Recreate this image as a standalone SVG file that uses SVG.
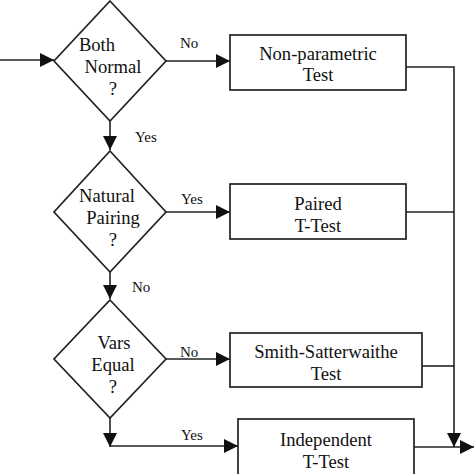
<svg xmlns="http://www.w3.org/2000/svg" width="474" height="474" viewBox="0 0 474 474">
<style>
.shape{fill:#fff;stroke:#222;stroke-width:1.7}
.line{fill:none;stroke:#222;stroke-width:1.6}
.t{font-family:"Liberation Serif","Times New Roman",serif;font-size:18.6px;fill:#111;text-anchor:middle}
.l{font-family:"Liberation Serif","Times New Roman",serif;font-size:15px;fill:#111}
</style>
<defs>
<marker id="arr" viewBox="0 0 14 14" refX="14" refY="7" markerWidth="14" markerHeight="14" markerUnits="userSpaceOnUse" orient="auto">
<path d="M0,0 L14,7 L0,14 Z" fill="#111"/>
</marker>
</defs>
<rect width="474" height="474" fill="#fff"/>
<g id="connectors">
<line class="line" x1="0" y1="60" x2="54" y2="60" marker-end="url(#arr)"/>
<line class="line" x1="166" y1="61" x2="230" y2="61" marker-end="url(#arr)"/>
<line class="line" x1="110" y1="121" x2="110" y2="150" marker-end="url(#arr)"/>
<line class="line" x1="166" y1="212" x2="230" y2="212" marker-end="url(#arr)"/>
<line class="line" x1="110" y1="272" x2="110" y2="299" marker-end="url(#arr)"/>
<line class="line" x1="166" y1="359" x2="230" y2="359" marker-end="url(#arr)"/>
<line class="line" x1="110" y1="418" x2="110" y2="447" marker-end="url(#arr)"/>
<line class="line" x1="110" y1="446" x2="238" y2="446" marker-end="url(#arr)"/>
<polyline class="line" points="406,67 454,67 454,447" marker-end="url(#arr)"/>
<line class="line" x1="406" y1="212" x2="454" y2="212"/>
<line class="line" x1="422" y1="366" x2="454" y2="366"/>
<line class="line" x1="414" y1="447" x2="474" y2="447" marker-end="url(#arr)"/>
<text class="l" x="180" y="48">No</text>
<text class="l" x="135" y="142">Yes</text>
<text class="l" x="181" y="204">Yes</text>
<text class="l" x="132" y="292">No</text>
<text class="l" x="180" y="357">No</text>
<text class="l" x="181" y="440">Yes</text>
</g>
<g id="both-normal">
<polygon class="shape" points="110,1 166,61 110,121 54,61"/>
<text class="t" x="97" y="51">Both</text>
<text class="t" x="113" y="73">Normal</text>
<text class="t" x="113" y="95">?</text>
</g>
<g id="natural-pairing">
<polygon class="shape" points="110,151 166,212 110,272 54,212"/>
<text class="t" x="107" y="202">Natural</text>
<text class="t" x="113" y="224">Pairing</text>
<text class="t" x="113" y="246">?</text>
</g>
<g id="vars-equal">
<polygon class="shape" points="110,300 166,359 110,418 54,359"/>
<text class="t" x="114" y="349">Vars</text>
<text class="t" x="113" y="371">Equal</text>
<text class="t" x="113" y="393">?</text>
</g>
<g id="non-parametric">
<rect class="shape" x="230" y="35" width="176" height="55"/>
<text class="t" x="318" y="60">Non-parametric</text>
<text class="t" x="318" y="81">Test</text>
</g>
<g id="paired">
<rect class="shape" x="230" y="184" width="176" height="55"/>
<text class="t" x="318" y="210">Paired</text>
<text class="t" x="318" y="232">T-Test</text>
</g>
<g id="smith">
<rect class="shape" x="230" y="333" width="192" height="54"/>
<text class="t" x="326" y="358">Smith-Satterwaithe</text>
<text class="t" x="326" y="380">Test</text>
</g>
<g id="independent">
<rect class="shape" x="238" y="419" width="176" height="70"/>
<text class="t" x="326" y="446">Independent</text>
<text class="t" x="326" y="468">T-Test</text>
</g>
</svg>
